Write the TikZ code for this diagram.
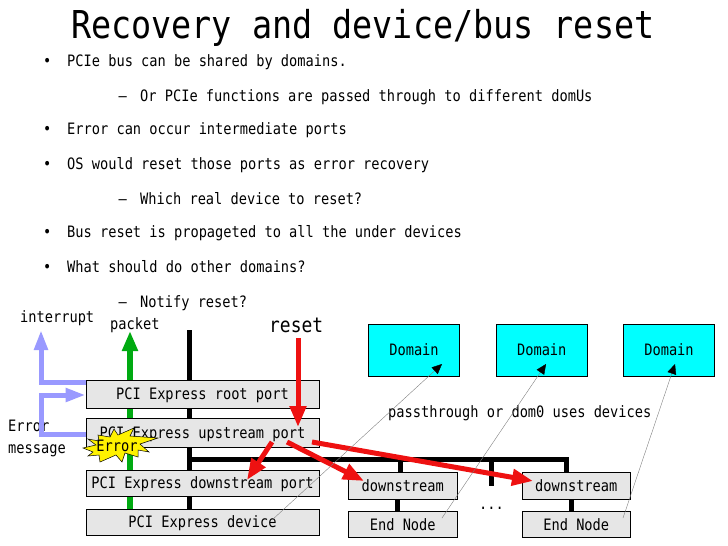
\documentclass[tikz,border=0pt]{standalone}
\usepackage{fontspec}
\setmainfont[FakeStretch=0.87]{DejaVu Sans Mono}
\usetikzlibrary{arrows.meta,calc}
\definecolor{boxgray}{HTML}{E6E6E6}
\definecolor{pktgreen}{HTML}{00AA11}
\definecolor{msgblue}{HTML}{9999FF}
\definecolor{rstred}{HTML}{EE1111}
\definecolor{hairgray}{HTML}{808080}
\definecolor{domcyan}{HTML}{00FFFF}
\newcommand{\bodysize}{\fontsize{15.7}{17}\selectfont}
\tikzset{
  txt/.style={font=\bodysize,inner sep=0pt,anchor=base west},
  boxtext/.style={font=\bodysize,inner sep=0pt,text height=12.3pt,text depth=1pt},
  portbox/.style={draw=black,line width=0.8pt,fill=boxgray,boxtext,minimum height=#1,minimum width=233pt},
  smallbox/.style={draw=black,line width=0.8pt,fill=boxgray,boxtext,minimum height=26.5pt,minimum width=108.5pt},
  dombox/.style={draw=black,line width=0.8pt,fill=domcyan,boxtext,minimum height=52pt,minimum width=91pt},
  bus/.style={line width=5pt,black},
  blue/.style={line width=5pt,msgblue,line join=miter},
  bluetip/.style={-{Triangle[length=20pt,width=13pt]}},
  greenline/.style={line width=5.5pt,pktgreen,-{Triangle[length=20pt,width=15pt]}},
  redline/.style={line width=5pt,rstred,-{Triangle[length=21pt,width=16pt]}},
  hair/.style={line width=0.4pt,hairgray,-{Triangle[length=10pt,width=9pt,black]}}
}
\begin{document}
\begin{tikzpicture}[x=1pt,y=-1pt]
\useasboundingbox (0,0) rectangle (728,546);
% title and bullets
\node[anchor=base west,inner sep=0pt,font=\fontsize{38.4}{40}\selectfont] (title) at (71,38) {Recovery and device/bus reset};
\node[txt] (b1) at (43,66) {•}; \node[txt] (t1) at (67,66) {PCIe bus can be shared by domains.};
\node[txt] (b2) at (118.5,101) {–}; \node[txt] (t2) at (140,101) {Or PCIe functions are passed through to different domUs};
\node[txt] (b3) at (43,134) {•}; \node[txt] (t3) at (67,134) {Error can occur intermediate ports};
\node[txt] (b4) at (43,169) {•}; \node[txt] (t4) at (67,169) {OS would reset those ports as error recovery};
\node[txt] (b5) at (118.5,204) {–}; \node[txt] (t5) at (140,204) {Which real device to reset?};
\node[txt] (b6) at (43,237) {•}; \node[txt] (t6) at (67,237) {Bus reset is propageted to all the under devices};
\node[txt] (b7) at (43,272) {•}; \node[txt] (t7) at (67,272) {What should do other domains?};
\node[txt] (b8) at (118.5,307) {–}; \node[txt] (t8) at (140,307) {Notify reset?};
% anchor coordinates
\coordinate (bustop) at (189.5,330);
\coordinate (pkttip) at (130,331);
\coordinate (inttip) at (41,330);
\coordinate (rsttop) at (298,338);
% green and black behind the boxes
\draw[greenline] (130,535) -- (pkttip);
\draw[bus] (bustop) -- (189.5,535);
% boxes
\node[portbox=28pt] (root) at (202.5,394) {PCI Express root port};
\node[portbox=28.5pt] (up) at (202.5,432.75) {PCI Express upstream port};
\node[portbox=25.5pt] (dport) at (202.5,483.25) {PCI Express downstream port};
\node[portbox=25.5pt] (dev) at (202.5,522.25) {PCI Express device};
\node[dombox] (d1) at (414,350) {Domain};
\node[dombox] (d2) at (541.75,350) {Domain};
\node[dombox] (d3) at (669,350) {Domain};
\node[smallbox] (s1) at (402.75,486) {downstream};
\node[smallbox] (e1) at (402.75,524.5) {End Node};
\node[smallbox] (s2) at (576.25,486) {downstream};
\node[smallbox] (e2) at (576.25,524.5) {End Node};
% bus
\coordinate (busL) at (189.5,459);
\coordinate (busR) at (568.5,459);
\coordinate (busM) at (491.5,459);
\draw[bus] (busL) -- (busR);
\draw[bus] (400.5,459) -- (400.5,473);
\draw[bus] (busM) -- (491.5,485.5);
\draw[bus] (566.5,459) -- (566.5,473);
\draw[bus] (397.5,499) -- (397.5,511);
\draw[bus] (571.5,499) -- (571.5,511);
% labels
\node[txt] (lint) at (20,322) {interrupt};
\node[txt] (lpkt) at (110,329) {packet};
\node[anchor=base west,inner sep=0pt,font=\fontsize{20.6}{22}\selectfont] (lrst) at (269,332) {reset};
\node[txt] (lerr) at (8,431) {Error};
\node[txt] (lmsg) at (8,453) {message};
\node[txt] (lpass) at (388,417.5) {passthrough or dom0 uses devices};
\node[txt] (ldots) at (479,509) {...};
% blue
\draw[blue,bluetip] (root.west |- 0,382) -| (inttip);
\draw[blue,bluetip] (up.west |- 0,434) -- (41,434) -- (41,395) -- (root.west |- 0,395);
% error burst
\draw[fill=yellow,draw=black,line width=0.5pt]
 (83,448) -- (96,445) -- (88,439) -- (99,441) -- (98,435) -- (110,437) -- (114,429) -- (118,435) -- (134,428)
 -- (130,436) -- (158,438) -- (140,444) -- (149,452) -- (138,450) -- (138,457) -- (125,453) -- (122,462)
 -- (116,455) -- (100,462) -- (99,455) -- (88,456) -- (93,452) -- cycle;
\node[font=\bodysize,inner sep=0pt] (lburst) at (117,446) {Error};
% red
\draw[redline] (rsttop) -- (298,427);
\draw[redline] (272,442) -- (247,480);
\draw[redline] (287,442) -- (364,481);
\draw[redline] (312,442) -- (533,481);
% thin pointers
\draw[hair] (272,520) -- (442,364);
\draw[hair] (442,518) -- (546,364);
\draw[hair] (623,518) -- (675,364);
\end{tikzpicture}
\end{document}
